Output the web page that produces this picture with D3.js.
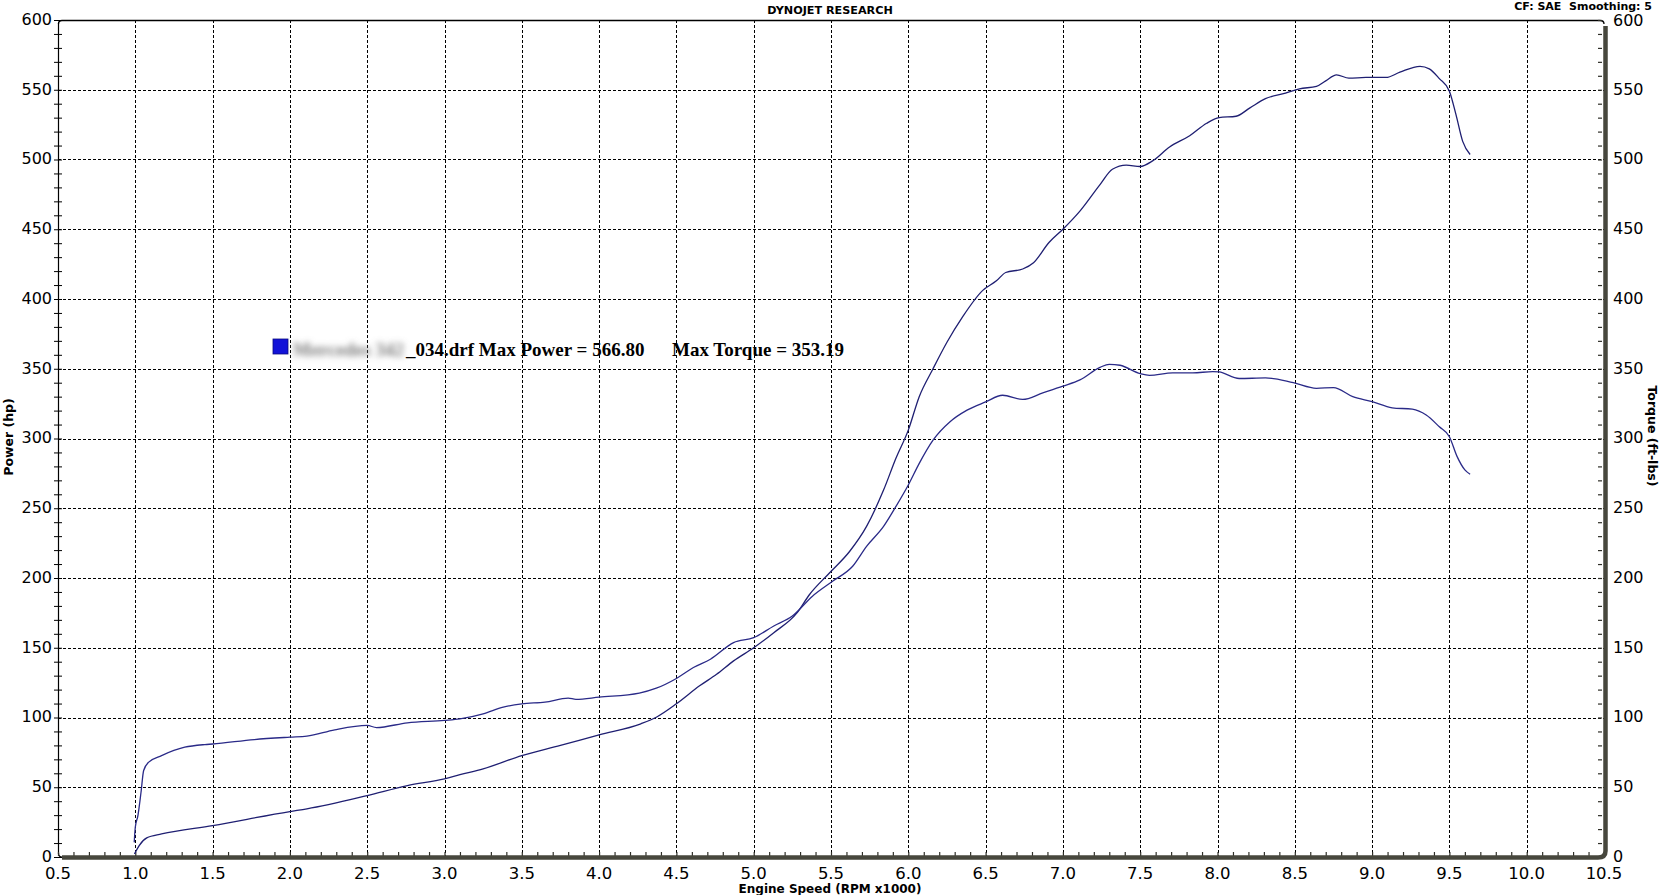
<!DOCTYPE html>
<html>
<head>
<meta charset="utf-8">
<script src="https://cdn.jsdelivr.net/npm/d3@7"></script>
<style>
  html, body { margin: 0; padding: 0; background: #ffffff; }
  svg { display: block; }
  text { white-space: pre; }
</style>
</head>
<body>
<svg id="chart" width="1661" height="895"></svg>
<script>
// ---- data (RPM x1000) ----
const powerRpm = [0.995,1.025,1.074,1.17,1.5,2.0,2.11,2.5,2.76,3.0,3.1,3.25,3.5,3.75,4.0,4.27,4.37,4.5,4.65,4.76,4.87,5.0,5.13,5.28,5.36,5.49,5.62,5.73,5.84,5.92,6.0,6.07,6.16,6.25,6.35,6.48,6.57,6.63,6.74,6.81,6.91,7.0,7.11,7.24,7.32,7.41,7.5,7.58,7.69,7.82,7.93,8.01,8.12,8.21,8.31,8.44,8.53,8.64,8.70,8.77,8.85,8.96,9.09,9.18,9.31,9.37,9.435,9.5,9.543,9.586,9.634];
const powerHp = [2.2,8.2,13.7,16.5,22.5,32.6,34.5,44,51.2,56,59,63.2,72.7,80,87.6,95.5,100.2,109.8,122.7,131,140.6,150,160.8,175,188,203.6,219,237,263,285.8,306,329.8,350,369,387,406,413,419,421.5,426,440.5,450,463,482,493,496,495,499,509,517,526,530,531,537,543.6,547.6,550.7,552.4,556.4,560.7,558.3,558.8,558.8,562.6,566.8,565,558,549,532,513,503.6];

const torqueRpm = [0.993,1.0,1.017,1.037,1.054,1.087,1.17,1.32,1.45,1.5,1.77,2.0,2.11,2.29,2.5,2.56,2.76,3.0,3.1,3.25,3.38,3.5,3.65,3.8,3.85,4.0,4.26,4.37,4.5,4.61,4.72,4.87,5.0,5.13,5.25,5.38,5.51,5.64,5.73,5.84,5.92,6.0,6.07,6.16,6.27,6.38,6.5,6.61,6.74,6.87,7.0,7.11,7.24,7.30,7.37,7.5,7.56,7.71,7.84,7.97,8.01,8.14,8.31,8.49,8.64,8.75,8.875,9.0,9.13,9.26,9.35,9.435,9.5,9.55,9.6,9.634];
const torqueFtLbs = [10.5,21.3,29.7,46.4,62,68,72.7,78.7,80.6,81,84.2,85.9,86.6,91.2,94.3,92.8,96.2,97.9,99,102.6,107.4,109.8,111,113.9,113,114.6,117.5,121,128,135.8,141.8,153.7,157.2,165.6,172.7,187,197.7,208.4,222.7,237,251.3,266.7,282,298.8,312,320.3,326.2,331,328,332.7,337.5,342,351,353.2,352.5,346.5,345.3,347,347,348,347.7,343,343.4,340,336,336.5,330,326.4,322,321,316.8,308.4,301.3,287,277.5,274.4];

const xTicks = [0.5,1.0,1.5,2.0,2.5,3.0,3.5,4.0,4.5,5.0,5.5,6.0,6.5,7.0,7.5,8.0,8.5,9.0,9.5,10.0,10.5];
const yTicks = [0,50,100,150,200,250,300,350,400,450,500,550,600];

const titleText = "DYNOJET RESEARCH";
const cornerText = "CF: SAE  Smoothing: 5";
const xTitle = "Engine Speed (RPM x1000)";
const yTitleLeft = "Power (hp)";
const yTitleRight = "Torque (ft-lbs)";
const legendName = "Mercedes 342";
const legendRun = "_034.drf Max Power = 566.80";
const legendTorque = "Max Torque = 353.19";

// ---- layout ----
const L = 58, R = 1604, T = 20, B = 857;
const svg = d3.select("#chart");

const x = d3.scaleLinear().domain([0.5, 10.5]).range([L, R]);
const y = d3.scaleLinear().domain([0, 600]).range([B, T]);
const y2 = d3.scaleLinear().domain([0, 600]).range([B, T]);

const defs = svg.append("defs");
defs.append("filter").attr("id", "blur").attr("x", "-20%").attr("y", "-50%").attr("width", "140%").attr("height", "200%")
  .append("feGaussianBlur").attr("stdDeviation", 3.2);

// grid
const grid = svg.append("g").attr("stroke", "#000").attr("stroke-width", 1).attr("stroke-dasharray", "3,2").attr("shape-rendering", "crispEdges");
grid.selectAll("line.v").data(xTicks.filter(d => d > 0.5 && d < 10.5)).join("line")
  .attr("class", "v")
  .attr("x1", d => Math.round(x(d)) + 0.5).attr("x2", d => Math.round(x(d)) + 0.5)
  .attr("y1", T).attr("y2", B);
grid.selectAll("line.h").data(yTicks.filter(d => d > 0 && d < 600)).join("line")
  .attr("class", "h")
  .attr("x1", L).attr("x2", R)
  .attr("y1", d => Math.round(y(d)) + 0.5).attr("y2", d => Math.round(y(d)) + 0.5);

// left axis (thin) with minor ticks
const leftAxis = d3.axisLeft(y).tickValues(d3.range(0, 601, 10)).tickSize(4).tickFormat("");
const gl = svg.append("g").attr("transform", `translate(${L},0)`).call(leftAxis);
gl.select(".domain").remove();
gl.selectAll(".tick line").attr("x1", -4).attr("x2", 4).attr("stroke", "#000");
svg.append("line").attr("x1", L + 0.5).attr("x2", L + 0.5).attr("y1", T + 3).attr("y2", B - 3).attr("stroke", "#000").attr("stroke-width", 1.2);

// top border with rounded corners
svg.append("path")
  .attr("d", `M${L + 0.5},${T + 4} Q${L + 0.5},${T + 0.5} ${L + 4},${T + 0.5} L${R - 4},${T + 0.5} Q${R},${T + 0.5} ${R},${T + 4}`)
  .attr("fill", "none").attr("stroke", "#000").attr("stroke-width", 1.3);

// left bottom corner
svg.append("path")
  .attr("d", `M${L + 0.5},${B - 4} Q${L + 0.5},${B} ${L + 4},${B}`)
  .attr("fill", "none").attr("stroke", "#000").attr("stroke-width", 1.2);

// left tick labels
svg.append("g").selectAll("text").data(yTicks).join("text")
  .attr("x", 52).attr("y", d => y(d)).attr("dy", "0.3em")
  .attr("text-anchor", "end")
  .attr("font-family", "DejaVu Sans, Verdana, sans-serif").attr("font-size", 16)
  .attr("fill", "#000").text(d => d);

// right axis thick bar with ticks
const rightAxis = d3.axisLeft(y2).tickValues(d3.range(0, 601, 10)).tickSize(4).tickFormat("");
const gr = svg.append("g").attr("transform", `translate(${R - 2},0)`).call(rightAxis);
gr.select(".domain").remove();
gr.selectAll(".tick line").attr("stroke", "#2f2f28").attr("stroke-width", 1.2);

// bottom axis ticks
const bottomAxis = d3.axisTop(x).tickValues(d3.range(5, 106, 1).map(d => d / 10)).tickSize(4).tickFormat("");
const gb = svg.append("g").attr("transform", `translate(0,${B - 1})`).call(bottomAxis);
gb.select(".domain").remove();
gb.selectAll(".tick line").attr("stroke", "#2f2f28").attr("stroke-width", 1.2);

// thick bars
svg.append("path")
  .attr("d", `M${L + 4},${B + 0.5} L${R - 6},${B + 0.5} Q${R + 1.5},${B + 0.5} ${R + 1.5},${B - 6} L${R + 1.5},${T + 6}`)
  .attr("fill", "none").attr("stroke", "#47473d").attr("stroke-width", 4.5).attr("stroke-linejoin", "round");

// right tick labels
svg.append("g").selectAll("text").data(yTicks).join("text")
  .attr("x", 1613).attr("y", d => y2(d)).attr("dy", d => d === 600 ? "0.36em" : "0.3em")
  .attr("text-anchor", "start")
  .attr("font-family", "DejaVu Sans, Verdana, sans-serif").attr("font-size", 16)
  .attr("fill", "#000").text(d => d);

// bottom tick labels
svg.append("g").selectAll("text").data(xTicks).join("text")
  .attr("x", d => x(d)).attr("y", 879)
  .attr("text-anchor", "middle")
  .attr("font-family", "DejaVu Sans, Verdana, sans-serif").attr("font-size", 16.5)
  .attr("fill", "#000").text(d => d.toFixed(1));

// titles
svg.append("text").attr("x", 830).attr("y", 14).attr("text-anchor", "middle")
  .attr("font-family", "DejaVu Sans, Verdana, sans-serif").attr("font-weight", "bold").attr("font-size", 11.2)
  .text(titleText);
svg.append("text").attr("x", 1652).attr("y", 9.5).attr("text-anchor", "end")
  .attr("font-family", "DejaVu Sans, Verdana, sans-serif").attr("font-weight", "bold").attr("font-size", 11)
  .text(cornerText);
svg.append("text").attr("x", 830).attr("y", 892.5).attr("text-anchor", "middle")
  .attr("font-family", "DejaVu Sans, Verdana, sans-serif").attr("font-weight", "bold").attr("font-size", 12)
  .text(xTitle);
svg.append("text").attr("transform", "translate(13,437) rotate(-90)").attr("text-anchor", "middle")
  .attr("font-family", "DejaVu Sans, Verdana, sans-serif").attr("font-weight", "bold").attr("font-size", 12.5)
  .text(yTitleLeft);
svg.append("text").attr("transform", "translate(1648,436) rotate(90)").attr("text-anchor", "middle")
  .attr("font-family", "DejaVu Sans, Verdana, sans-serif").attr("font-weight", "bold").attr("font-size", 12.5)
  .text(yTitleRight);

// curves
const line = d3.line().curve(d3.curveMonotoneX);
const powerPts = powerRpm.map((r, i) => [x(r), y(powerHp[i])]);
const torquePts = torqueRpm.map((r, i) => [x(r), y2(torqueFtLbs[i])]);
svg.append("path").attr("d", line(powerPts)).attr("fill", "none").attr("stroke", "#1f1f72").attr("stroke-width", 1.3);
svg.append("path").attr("d", line(torquePts)).attr("fill", "none").attr("stroke", "#2a2a88").attr("stroke-width", 1.3);

// legend
svg.append("rect").attr("x", 273).attr("y", 339).attr("width", 15).attr("height", 15)
  .attr("fill", "#1212d8").attr("stroke", "#0a0a80").attr("stroke-width", 0.8);
svg.append("text").attr("x", 293).attr("y", 356)
  .attr("font-family", "Liberation Serif, Times New Roman, serif").attr("font-weight", "bold").attr("font-size", 19)
  .attr("fill", "#7a7a7a").attr("filter", "url(#blur)").text(legendName);
svg.append("text").attr("x", 406).attr("y", 356)
  .attr("font-family", "Liberation Serif, Times New Roman, serif").attr("font-weight", "bold").attr("font-size", 19)
  .attr("fill", "#000").text(legendRun);
svg.append("text").attr("x", 672).attr("y", 356)
  .attr("font-family", "Liberation Serif, Times New Roman, serif").attr("font-weight", "bold").attr("font-size", 19)
  .attr("fill", "#000").text(legendTorque);
</script>
</body>
</html>
